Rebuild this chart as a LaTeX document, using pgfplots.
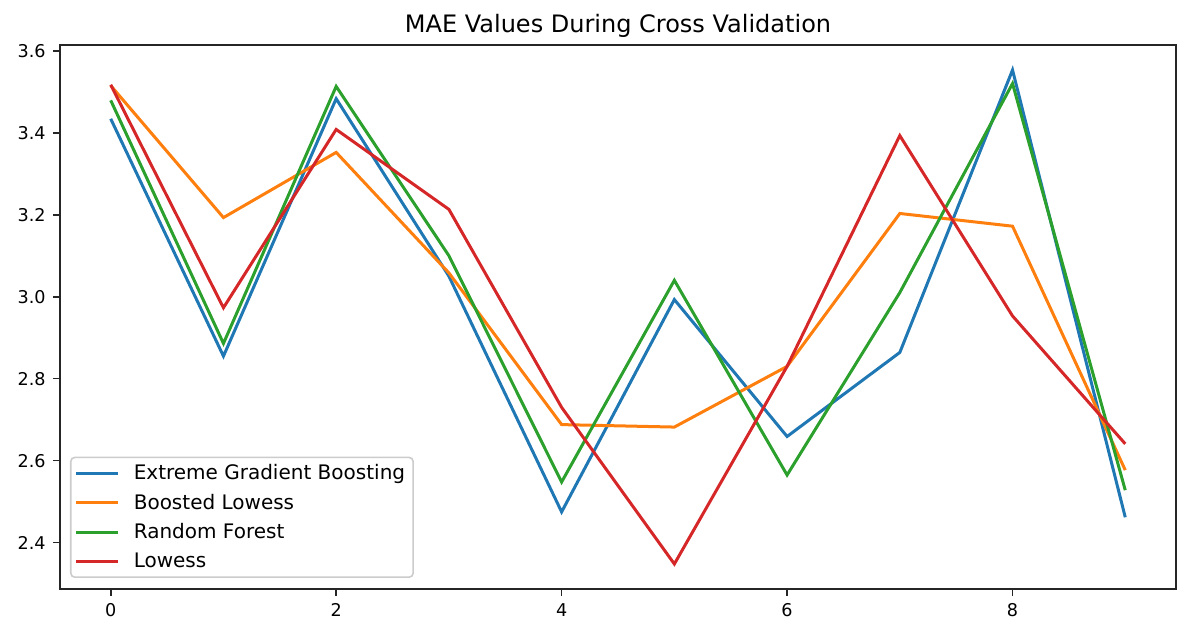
\documentclass[border=0pt]{standalone}
\usepackage{fontspec}
\setmainfont{DejaVu Sans}
\usepackage{pgfplots}
\pgfplotsset{compat=1.18}
\usepackage{pgfplotstable}

\definecolor{tabblue}{HTML}{1F77B4}
\definecolor{taborange}{HTML}{FF7F0E}
\definecolor{tabgreen}{HTML}{2CA02C}
\definecolor{tabred}{HTML}{D62728}
\definecolor{axisgray}{HTML}{262626}

% MAE per fold
\pgfplotstableread{
fold xgb    blowess rf     lowess
0    3.434  3.515   3.479  3.517
1    2.855  3.193   2.886  2.973
2    3.483  3.352   3.513  3.408
3    3.050  3.058   3.100  3.213
4    2.475  2.688   2.548  2.730
5    2.993  2.682   3.040  2.348
6    2.659  2.830   2.565  2.830
7    2.864  3.203   3.010  3.393
8    3.553  3.172   3.520  2.953
9    2.462  2.577   2.528  2.641
}\maetable

\begin{document}
\begin{tikzpicture}
\useasboundingbox (0,0) rectangle (595pt,318pt);
\begin{axis}[
  at={(30pt,23.5pt)}, anchor=south west,
  scale only axis, width=558pt, height=272pt,
  xmin=-0.45, xmax=9.45, ymin=2.287, ymax=3.614,
  xtick={0,2,4,6,8},
  ytick={2.4,2.6,2.8,3.0,3.2,3.4,3.6},
  /pgf/number format/assume math mode=true,
  tick align=outside, major tick length=3.5pt,
  tick style={axisgray, line width=0.8pt},
  xtick pos=bottom, ytick pos=left,
  axis line style={axisgray, line width=0.8pt},
  ticklabel style={font=\fontsize{8.8}{10}\selectfont},
  xticklabel style={inner sep=0pt, yshift=-3.5pt},
  yticklabel style={inner sep=0pt, xshift=-3.5pt,
    /pgf/number format/fixed, /pgf/number format/fixed zerofill,
    /pgf/number format/precision=1},
  title={MAE Values During Cross Validation},
  title style={at={(0.5,1)}, anchor=base, yshift=0pt, font=\fontsize{12}{14}\selectfont},
  legend cell align=left,
  legend image code/.code={\draw[#1, line width=1.5pt] (0pt,0pt) -- (21pt,0pt);},
  legend style={at={(0,0)}, anchor=south west, xshift=5pt, yshift=5.5pt,
    draw=black!20, rounded corners=2pt, line width=0.8pt,
    font=\fontsize{10}{12}\selectfont,
    inner xsep=2pt, inner ysep=1.5pt, row sep=1.6pt,
    /tikz/every odd column/.append style={column sep=5pt},
    /tikz/every even column/.append style={column sep=0pt}},
  every axis plot/.append style={line width=1.5pt},
]
\addplot[tabblue] table[x=fold, y=xgb] {\maetable};
\addlegendentry{Extreme Gradient Boosting}
\addplot[taborange] table[x=fold, y=blowess] {\maetable};
\addlegendentry{Boosted Lowess}
\addplot[tabgreen] table[x=fold, y=rf] {\maetable};
\addlegendentry{Random Forest}
\addplot[tabred] table[x=fold, y=lowess] {\maetable};
\addlegendentry{Lowess}
\end{axis}
\end{tikzpicture}
\end{document}
